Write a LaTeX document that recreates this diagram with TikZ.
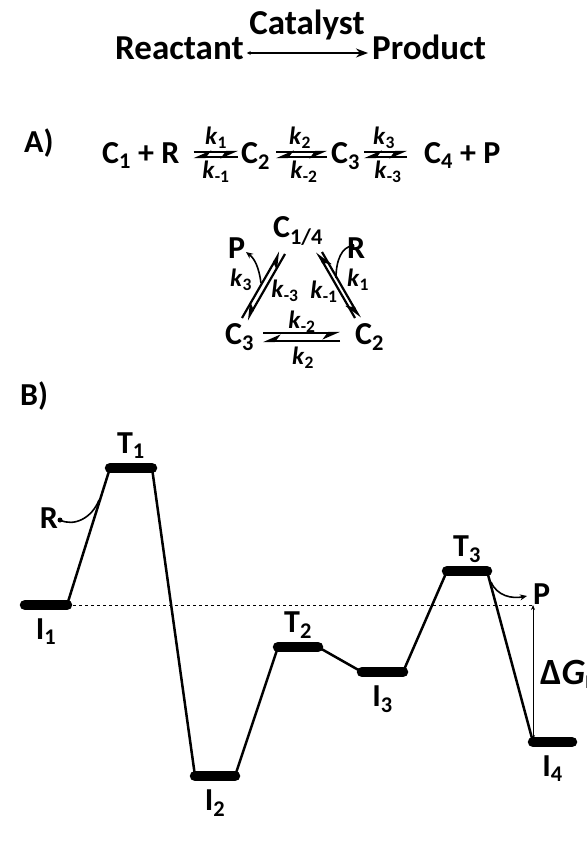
\documentclass[tikz,border=0pt]{standalone}
\usepackage{fontspec}
\setmainfont{Carlito}
\usetikzlibrary{arrows.meta,calc}
\tikzset{
  txt/.style={font=\fontsize{32}{34}\selectfont\bfseries, inner sep=0pt},
  big/.style={font=\fontsize{35}{37}\selectfont\bfseries, inner sep=0pt},
  klbl/.style={font=\fontsize{25}{27}\selectfont\bfseries, inner sep=0pt},
  harp/.style={line width=2.2pt, -{Stealth[harpoon,swap,length=15pt,width=13pt]}},
  level/.style={line width=10.5pt, line cap=round},
  leg/.style={line width=2.5pt},
  thin/.style={line width=0.8pt},
  curv/.style={line width=1.6pt, -{Stealth[length=7pt,width=6pt]}},
}
\newcommand{\kk}[1]{\textit{k}\textsubscript{#1}}
\begin{document}
\begin{tikzpicture}[x=1pt, y=-1pt]
\useasboundingbox (0,0) rectangle (586,848);
% overall reaction
\node[big, anchor=base west] (reac) at (115,60) {Reactant};
\node[big, anchor=base west] (prod) at (372,60) {Product};
\node[big, anchor=base] (cat) at (307,35) {Catalyst};
\draw[line width=1.4pt, {Stealth[length=4pt,width=4pt]}-{Stealth[length=12pt,width=9pt]}]
  ([shift={(3,-7)}]reac.base east) -- ([shift={(-4,-7)}]prod.base west);

% A) linear scheme
\node[txt, anchor=base west] (labA) at (24,152) {A)};
\node[txt, anchor=base west] (c1r) at (102,163) {C\textsubscript{1} + R};
\node[txt, anchor=base west] (c2) at (241,163) {C\textsubscript{2}};
\node[txt, anchor=base west] (c3) at (331,163) {C\textsubscript{3}};
\node[txt, anchor=base west] (c4p) at (424,163) {C\textsubscript{4} + P};
\draw[harp] ([shift={(14,-11)}]c1r.base east) -- ([shift={(-3,-11)}]c2.base west);
\draw[harp] ([shift={(-3,-6)}]c2.base west) -- ([shift={(14,-6)}]c1r.base east);
\draw[harp] ([shift={(6,-11)}]c2.base east) -- ([shift={(-4,-11)}]c3.base west);
\draw[harp] ([shift={(-4,-6)}]c3.base west) -- ([shift={(6,-6)}]c2.base east);
\draw[harp] ([shift={(4,-11)}]c3.base east) -- ([shift={(-17,-11)}]c4p.base west);
\draw[harp] ([shift={(-17,-6)}]c4p.base west) -- ([shift={(4,-6)}]c3.base east);
\node[klbl] (k1) at (216,138) {\kk{1}};
\node[klbl] (km1) at (216,172) {\kk{-1}};
\node[klbl] (k2) at (300,138) {\kk{2}};
\node[klbl] (km2) at (304,172) {\kk{-2}};
\node[klbl] (k3) at (384,138) {\kk{3}};
\node[klbl] (km3) at (388,172) {\kk{-3}};

% A) cyclic scheme
\node[txt, anchor=base] (c14) at (298,237) {C\textsubscript{1/4}};
\node[txt, anchor=base west] (pc) at (228,258) {P};
\node[txt, anchor=base west] (rc) at (347,258) {R};
\node[txt, anchor=base west] (cc3) at (225,344) {C\textsubscript{3}};
\node[txt, anchor=base west] (cc2) at (355,344) {C\textsubscript{2}};
\coordinate (lo1) at (242,318); \coordinate (lo2) at (280,252);
\coordinate (li1) at (285,254); \coordinate (li2) at (247,320);
\coordinate (ro1) at (322,252); \coordinate (ro2) at (360,318);
\coordinate (ri1) at (355,318); \coordinate (ri2) at (317,252);
\coordinate (bt1) at (263,333); \coordinate (bt2) at (340,333);
\coordinate (bb1) at (340,341); \coordinate (bb2) at (263,341);
\draw[harp] (lo1) -- (lo2);
\draw[harp] (li1) -- (li2);
\draw[harp] (ro1) -- (ro2);
\draw[harp] (ri1) -- (ri2);
\draw[harp] (bt1) -- (bt2);
\draw[harp] (bb1) -- (bb2);
\draw[curv] (261,283) .. controls (259,268) and (255,259) .. (246,252);
\fill (352,246) circle (2.5pt);
\draw[line width=1.6pt] (352,246) .. controls (342,247) and (336,260) .. (336,278);
\node[klbl] (ck3) at (241,280) {\kk{3}};
\node[klbl] (ckm3) at (285,291) {\kk{-3}};
\node[klbl] (ckm1) at (324,292) {\kk{-1}};
\node[klbl] (ck1) at (358,280) {\kk{1}};
\node[klbl] (ckm2) at (302,322) {\kk{-2}};
\node[klbl] (ck2) at (303,358) {\kk{2}};

% B) energy profile
\node[txt, anchor=base west] (labB) at (20,405) {B)};
\foreach \n/\xa/\xb/\yy in {I1/25/67/605, T1/110/152/468, I2/195/235/776,
    T2/278/318/647, I3/362/403/672, T3/447/487/571, I4/533/572/742} {
  \coordinate (\n l) at (\xa,\yy);
  \coordinate (\n r) at (\xb,\yy);
  \draw[level] (\n l) -- (\n r);
}
\draw[leg] (I1r) -- (T1l) (T1r) -- (I2l) (I2r) -- (T2l)
  (T2r) -- (I3l) (I3r) -- (T3l) (T3r) -- (I4l);
\draw[dashed, thin] (I1r) -- (533,605) coordinate (dg);
\coordinate (dgb) at (533,740);
\draw[thin, {Stealth[length=5pt,width=4pt]}-{Stealth[length=5pt,width=4pt]}] (dg) -- (dgb);
\node[txt, anchor=base east] (re) at (58,528) {R};
\fill (60,520) circle (2.5pt);
\draw[line width=1.6pt] (60,520) .. controls (74,527) and (92,518) .. (99,500);
\draw[curv] (491,582) .. controls (497,596) and (512,599) .. (527,596);
\node[txt, anchor=base] (lT1) at ($(T1l)!0.5!(T1r)+(0,-15)$) {T\textsubscript{1}};
\node[txt, anchor=base] (lT2) at ($(T2l)!0.5!(T2r)+(0,-15)$) {T\textsubscript{2}};
\node[txt, anchor=base] (lT3) at ($(T3l)!0.5!(T3r)+(0,-15)$) {T\textsubscript{3}};
\node[txt, anchor=base] (lI1) at ($(I1l)!0.5!(I1r)+(0,34)$) {I\textsubscript{1}};
\node[txt, anchor=base] (lI2) at ($(I2l)!0.5!(I2r)+(0,34)$) {I\textsubscript{2}};
\node[txt, anchor=base] (lI3) at ($(I3l)!0.5!(I3r)+(0,34)$) {I\textsubscript{3}};
\node[txt, anchor=base] (lI4) at ($(I4l)!0.5!(I4r)+(0,34)$) {I\textsubscript{4}};
\node[txt, anchor=base west] (pe) at (533,604) {P};
\node[big, anchor=base west, font=\fontsize{37}{39}\selectfont\bfseries] (dG) at (540,684) {Δ\textit{G}\textsubscript{r}};
\end{tikzpicture}
\end{document}
